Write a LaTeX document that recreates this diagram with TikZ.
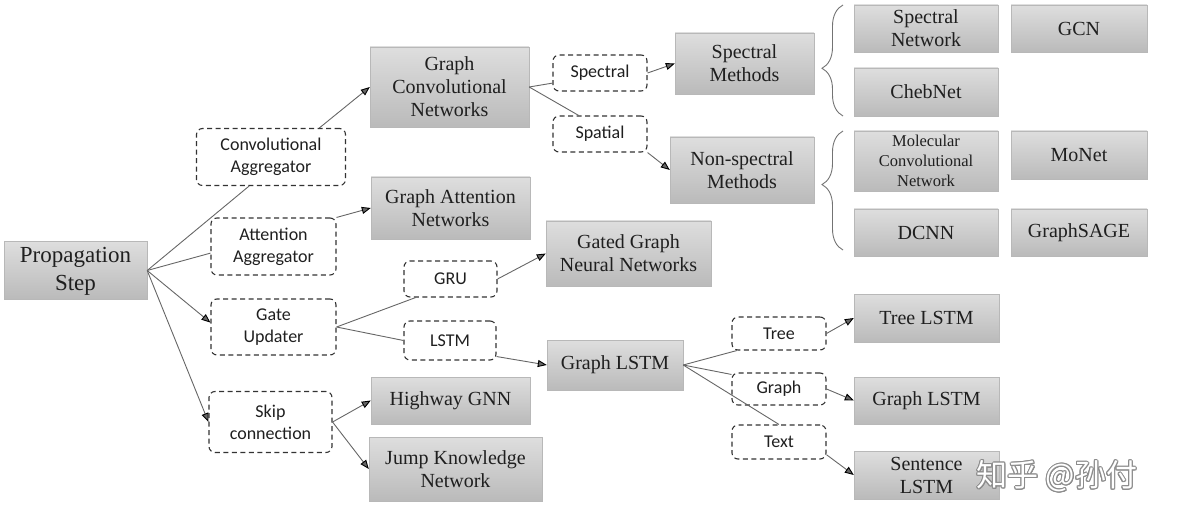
\documentclass[tikz,border=0pt]{standalone}
\usepackage{fontspec}
\setmainfont{Liberation Serif}
\setsansfont{Carlito}
\newfontfamily\cjk{Noto Sans CJK SC}
\usepackage{contour}
\contourlength{1pt}
\usetikzlibrary{arrows.meta, positioning, decorations.pathreplacing}

\begin{document}
\begin{tikzpicture}[x=1pt, y=-1pt,
        box/.style={draw=black!28, top color=black!13, bottom color=black!27, inner sep=0pt, align=center, text=black!88, font=\fontsize{20}{23}\selectfont},
        agg/.style={draw=black!80, line width=1.1pt, dash pattern=on 5pt off 3.5pt, rounded corners=6pt, inner sep=0pt, align=center, text=black!88, font=\sffamily\fontsize{18}{22}\selectfont},
        wh/.style 2 args={minimum width=#1pt, minimum height=#2pt},
        link/.style={black!60, line width=0.9pt},
        >={Triangle[length=9pt, width=7pt, color=black]}]
        \useasboundingbox (0,0) rectangle (1178,505);

        % left column
        \node[box, wh={143}{58}, font=\fontsize{23}{28}\selectfont, text depth=3pt] (prop) at (75.5,270.5) {Propagation\\Step};
        \node[agg, wh={149}{57}] (convagg) at (271,157) {Convolutional\\Aggregator};
        \node[agg, wh={125}{57}] (attagg) at (273.5,246.5) {Attention\\Aggregator};
        \node[agg, wh={125}{56}] (gateupd) at (273.5,327) {Gate\\Updater};
        \node[agg, wh={123}{61}] (skip) at (270.5,422) {Skip\\connection};

        % second column
        \node[box, wh={159}{80}] (gcn) at (449.5,87) {Graph\\Convolutional\\Networks};
        \node[box, wh={159}{62}] (gat) at (450.5,208) {Graph Attention\\Networks};
        \node[agg, wh={93}{36}] (gru) at (450.5,279) {GRU};
        \node[agg, wh={92}{39}] (lstm) at (450,340.5) {LSTM};
        \node[box, wh={159}{47}] (highway) at (450.5,400.5) {Highway GNN};
        \node[box, wh={173}{64}] (jump) at (455.5,469) {Jump Knowledge\\Network};
        \node[box, wh={165}{65}] (ggnn) at (628.5,253.5) {Gated Graph\\Neural Networks};
        \node[box, wh={136}{50}] (glstm) at (615,365) {Graph LSTM};

        % spectral / spatial
        \node[agg, wh={94}{36}] (spec) at (600,73) {Spectral};
        \node[agg, wh={94}{36}] (spat) at (600,134) {Spatial};
        \node[box, wh={139}{61}] (specm) at (744.5,63.5) {Spectral\\Methods};
        \node[box, wh={144}{66}] (nonspec) at (742,170) {Non-spectral\\Methods};

        \node[box, wh={144}{47}] (specnet) at (926,28.5) {Spectral\\Network};
        \node[box, wh={136}{47}] (gcnm) at (1079,28.5) {GCN};
        \node[box, wh={144}{48}] (cheb) at (926,92) {ChebNet};
        \node[box, wh={144}{60}, font=\fontsize{16.5}{20}\selectfont] (molec) at (926,161) {Molecular\\Convolutional\\Network};
        \node[box, wh={136}{48}] (monet) at (1079,155) {MoNet};
        \node[box, wh={144}{47}] (dcnn) at (926,232.5) {DCNN};
        \node[box, wh={136}{47}] (sage) at (1079,232.5) {GraphSAGE};

        % lstm variants
        \node[agg, wh={94}{33}] (tree) at (779,333.5) {Tree};
        \node[agg, wh={94}{32}] (graph) at (779,389) {Graph};
        \node[agg, wh={94}{34}] (txt) at (779,442) {Text};
        \node[box, wh={145}{48}] (treelstm) at (926.5,318) {Tree LSTM};
        \node[box, wh={145}{47}] (glstm2) at (926.5,400.5) {Graph LSTM};
        \node[box, wh={145}{48}] (sent) at (926.5,475) {Sentence\\LSTM};

        \draw[black!55, line width=0.9pt, decorate, decoration={brace, amplitude=21pt, aspect=0.43}] (843,116) -- (843,5);
        \draw[black!55, line width=0.9pt, decorate, decoration={brace, amplitude=21pt, aspect=0.55}] (843,250) -- (843,131);

        \path[link]
            (prop.east) edge (convagg.233)
            (prop.east) edge (attagg.186)
            (gateupd.east) edge (gru.208)
            (gateupd.east) edge (lstm.west)
            (gcn.east) edge (spec.192)
            (gcn.east) edge (spat.139)
            (glstm.east) edge (tree.202)
            (glstm.east) edge (graph.163)
            (glstm.east) edge (txt.north);
        \path[link, ->]
            (prop.east) edge (gateupd.176)
            (prop.east) edge (skip.west)
            (convagg.31) edge (gcn.west)
            (attagg.north east) edge (gat.west)
            (gru.east) edge (ggnn.west)
            (lstm.-19) edge (glstm.west)
            (skip.east) edge (highway.west)
            (skip.east) edge (jump.west)
            (spec.east) edge (specm.west)
            (spat.south east) edge (nonspec.west)
            (tree.east) edge (treelstm.west)
            (graph.east) edge (glstm2.west)
            (txt.-15) edge (sent.west);

        \node[font=\cjk\fontsize{31}{31}\selectfont, text=white] (mark) at (1057,477) {\contour{black!45}{知乎 @孙付}};
\end{tikzpicture}
\end{document}
